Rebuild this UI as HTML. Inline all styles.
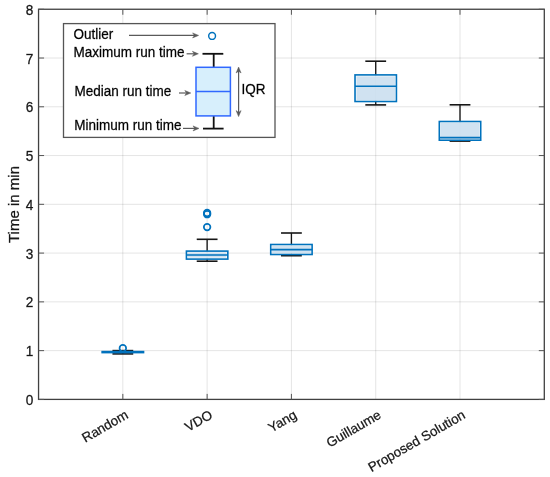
<!DOCTYPE html>
<html><head><meta charset="utf-8"><title>Boxplot</title>
<style>html,body{margin:0;padding:0;background:#fff;overflow:hidden;}svg{display:block;}
text{font-family:'Liberation Sans', Arial, Helvetica, sans-serif;}</style></head>
<body><svg width="550" height="477" viewBox="0 0 550 477">
<rect x="0" y="0" width="550" height="477" fill="#fff"/>
<line x1="38.55" y1="350.63" x2="544.3" y2="350.63" stroke="#000" stroke-opacity="0.105" stroke-width="1"/>
<line x1="38.55" y1="301.86" x2="544.3" y2="301.86" stroke="#000" stroke-opacity="0.105" stroke-width="1"/>
<line x1="38.55" y1="253.09" x2="544.3" y2="253.09" stroke="#000" stroke-opacity="0.105" stroke-width="1"/>
<line x1="38.55" y1="204.32" x2="544.3" y2="204.32" stroke="#000" stroke-opacity="0.105" stroke-width="1"/>
<line x1="38.55" y1="155.56" x2="544.3" y2="155.56" stroke="#000" stroke-opacity="0.105" stroke-width="1"/>
<line x1="38.55" y1="106.79" x2="544.3" y2="106.79" stroke="#000" stroke-opacity="0.105" stroke-width="1"/>
<line x1="38.55" y1="58.02" x2="544.3" y2="58.02" stroke="#000" stroke-opacity="0.105" stroke-width="1"/>
<line x1="122.84" y1="9.25" x2="122.84" y2="399.4" stroke="#000" stroke-opacity="0.105" stroke-width="1"/>
<line x1="207.13" y1="9.25" x2="207.13" y2="399.4" stroke="#000" stroke-opacity="0.105" stroke-width="1"/>
<line x1="291.42" y1="9.25" x2="291.42" y2="399.4" stroke="#000" stroke-opacity="0.105" stroke-width="1"/>
<line x1="375.72" y1="9.25" x2="375.72" y2="399.4" stroke="#000" stroke-opacity="0.105" stroke-width="1"/>
<line x1="460.01" y1="9.25" x2="460.01" y2="399.4" stroke="#000" stroke-opacity="0.105" stroke-width="1"/>
<line x1="122.84" y1="350.6" x2="122.84" y2="351.6" stroke="#161616" stroke-width="1.35"/>
<line x1="122.84" y1="352.6" x2="122.84" y2="353.9" stroke="#161616" stroke-width="1.35"/>
<line x1="112.44" y1="350.6" x2="133.24" y2="350.6" stroke="#161616" stroke-width="1.6"/>
<line x1="112.44" y1="353.9" x2="133.24" y2="353.9" stroke="#161616" stroke-width="1.6"/>
<rect x="102.14" y="351.60" width="41.40" height="1.00" fill="none" stroke="#0072bd" stroke-width="1.6"/>
<line x1="102.14" y1="352.1" x2="143.54" y2="352.1" stroke="#0072bd" stroke-width="1.6"/>
<circle cx="122.84" cy="348.2" r="3.3" fill="none" stroke="#0072bd" stroke-width="1.7"/>
<rect x="187.83" y="252.50" width="38.60" height="5.20" fill="#cbdff0" fill-opacity="0.9"/>
<line x1="207.13" y1="239.3" x2="207.13" y2="251.1" stroke="#161616" stroke-width="1.35"/>
<line x1="207.13" y1="259.1" x2="207.13" y2="261.2" stroke="#161616" stroke-width="1.35"/>
<line x1="196.73" y1="239.3" x2="217.53" y2="239.3" stroke="#161616" stroke-width="1.6"/>
<line x1="196.73" y1="261.2" x2="217.53" y2="261.2" stroke="#161616" stroke-width="1.6"/>
<rect x="186.43" y="251.10" width="41.40" height="8.00" fill="none" stroke="#0072bd" stroke-width="1.6"/>
<line x1="186.43" y1="255.0" x2="227.83" y2="255.0" stroke="#0072bd" stroke-width="1.6"/>
<circle cx="207.13" cy="213.0" r="3.3" fill="none" stroke="#0072bd" stroke-width="1.7"/>
<circle cx="207.13" cy="214.2" r="3.3" fill="none" stroke="#0072bd" stroke-width="1.7"/>
<circle cx="207.13" cy="227.1" r="3.3" fill="none" stroke="#0072bd" stroke-width="1.7"/>
<rect x="272.12" y="245.90" width="38.60" height="7.20" fill="#cbdff0" fill-opacity="0.9"/>
<line x1="291.42" y1="233.0" x2="291.42" y2="244.5" stroke="#161616" stroke-width="1.35"/>
<line x1="291.42" y1="254.5" x2="291.42" y2="255.7" stroke="#161616" stroke-width="1.35"/>
<line x1="281.02" y1="233.0" x2="301.82" y2="233.0" stroke="#161616" stroke-width="1.6"/>
<line x1="281.02" y1="255.7" x2="301.82" y2="255.7" stroke="#161616" stroke-width="1.6"/>
<rect x="270.72" y="244.50" width="41.40" height="10.00" fill="none" stroke="#0072bd" stroke-width="1.6"/>
<line x1="270.72" y1="249.6" x2="312.12" y2="249.6" stroke="#0072bd" stroke-width="1.6"/>
<rect x="356.42" y="76.30" width="38.60" height="23.80" fill="#cbdff0" fill-opacity="0.9"/>
<line x1="375.72" y1="61.2" x2="375.72" y2="74.9" stroke="#161616" stroke-width="1.35"/>
<line x1="375.72" y1="101.5" x2="375.72" y2="104.9" stroke="#161616" stroke-width="1.35"/>
<line x1="365.32" y1="61.2" x2="386.12" y2="61.2" stroke="#161616" stroke-width="1.6"/>
<line x1="365.32" y1="104.9" x2="386.12" y2="104.9" stroke="#161616" stroke-width="1.6"/>
<rect x="355.02" y="74.90" width="41.40" height="26.60" fill="none" stroke="#0072bd" stroke-width="1.6"/>
<line x1="355.02" y1="86.2" x2="396.42" y2="86.2" stroke="#0072bd" stroke-width="1.6"/>
<rect x="440.71" y="122.90" width="38.60" height="15.90" fill="#cbdff0" fill-opacity="0.9"/>
<line x1="460.01" y1="104.8" x2="460.01" y2="121.5" stroke="#161616" stroke-width="1.35"/>
<line x1="460.01" y1="140.2" x2="460.01" y2="141.1" stroke="#161616" stroke-width="1.35"/>
<line x1="449.61" y1="104.8" x2="470.41" y2="104.8" stroke="#161616" stroke-width="1.6"/>
<line x1="449.61" y1="141.1" x2="470.41" y2="141.1" stroke="#161616" stroke-width="1.6"/>
<rect x="439.31" y="121.50" width="41.40" height="18.70" fill="none" stroke="#0072bd" stroke-width="1.6"/>
<line x1="439.31" y1="137.6" x2="480.71" y2="137.6" stroke="#0072bd" stroke-width="1.6"/>
<rect x="38.55" y="9.25" width="505.75" height="390.15" fill="none" stroke="#404040" stroke-width="1.3"/>
<line x1="38.55" y1="399.40" x2="44.05" y2="399.40" stroke="#555" stroke-width="1"/>
<line x1="538.8" y1="399.40" x2="544.3" y2="399.40" stroke="#555" stroke-width="1"/>
<text x="0" y="0" text-anchor="end" font-size="13.6" fill="#1a1a1a" transform="translate(33.35,405.00) scale(1,1.06)" stroke="#000" stroke-width="0.35" stroke-opacity="0.65">0</text>
<line x1="38.55" y1="350.63" x2="44.05" y2="350.63" stroke="#555" stroke-width="1"/>
<line x1="538.8" y1="350.63" x2="544.3" y2="350.63" stroke="#555" stroke-width="1"/>
<text x="0" y="0" text-anchor="end" font-size="13.6" fill="#1a1a1a" transform="translate(33.35,356.23) scale(1,1.06)" stroke="#000" stroke-width="0.35" stroke-opacity="0.65">1</text>
<line x1="38.55" y1="301.86" x2="44.05" y2="301.86" stroke="#555" stroke-width="1"/>
<line x1="538.8" y1="301.86" x2="544.3" y2="301.86" stroke="#555" stroke-width="1"/>
<text x="0" y="0" text-anchor="end" font-size="13.6" fill="#1a1a1a" transform="translate(33.35,307.46) scale(1,1.06)" stroke="#000" stroke-width="0.35" stroke-opacity="0.65">2</text>
<line x1="38.55" y1="253.09" x2="44.05" y2="253.09" stroke="#555" stroke-width="1"/>
<line x1="538.8" y1="253.09" x2="544.3" y2="253.09" stroke="#555" stroke-width="1"/>
<text x="0" y="0" text-anchor="end" font-size="13.6" fill="#1a1a1a" transform="translate(33.35,258.69) scale(1,1.06)" stroke="#000" stroke-width="0.35" stroke-opacity="0.65">3</text>
<line x1="38.55" y1="204.32" x2="44.05" y2="204.32" stroke="#555" stroke-width="1"/>
<line x1="538.8" y1="204.32" x2="544.3" y2="204.32" stroke="#555" stroke-width="1"/>
<text x="0" y="0" text-anchor="end" font-size="13.6" fill="#1a1a1a" transform="translate(33.35,209.92) scale(1,1.06)" stroke="#000" stroke-width="0.35" stroke-opacity="0.65">4</text>
<line x1="38.55" y1="155.56" x2="44.05" y2="155.56" stroke="#555" stroke-width="1"/>
<line x1="538.8" y1="155.56" x2="544.3" y2="155.56" stroke="#555" stroke-width="1"/>
<text x="0" y="0" text-anchor="end" font-size="13.6" fill="#1a1a1a" transform="translate(33.35,161.16) scale(1,1.06)" stroke="#000" stroke-width="0.35" stroke-opacity="0.65">5</text>
<line x1="38.55" y1="106.79" x2="44.05" y2="106.79" stroke="#555" stroke-width="1"/>
<line x1="538.8" y1="106.79" x2="544.3" y2="106.79" stroke="#555" stroke-width="1"/>
<text x="0" y="0" text-anchor="end" font-size="13.6" fill="#1a1a1a" transform="translate(33.35,112.39) scale(1,1.06)" stroke="#000" stroke-width="0.35" stroke-opacity="0.65">6</text>
<line x1="38.55" y1="58.02" x2="44.05" y2="58.02" stroke="#555" stroke-width="1"/>
<line x1="538.8" y1="58.02" x2="544.3" y2="58.02" stroke="#555" stroke-width="1"/>
<text x="0" y="0" text-anchor="end" font-size="13.6" fill="#1a1a1a" transform="translate(33.35,63.62) scale(1,1.06)" stroke="#000" stroke-width="0.35" stroke-opacity="0.65">7</text>
<line x1="38.55" y1="9.25" x2="44.05" y2="9.25" stroke="#555" stroke-width="1"/>
<line x1="538.8" y1="9.25" x2="544.3" y2="9.25" stroke="#555" stroke-width="1"/>
<text x="0" y="0" text-anchor="end" font-size="13.6" fill="#1a1a1a" transform="translate(33.35,14.85) scale(1,1.06)" stroke="#000" stroke-width="0.35" stroke-opacity="0.65">8</text>
<line x1="122.84" y1="399.4" x2="122.84" y2="393.9" stroke="#555" stroke-width="1"/>
<line x1="122.84" y1="9.25" x2="122.84" y2="14.75" stroke="#555" stroke-width="1"/>
<line x1="207.13" y1="399.4" x2="207.13" y2="393.9" stroke="#555" stroke-width="1"/>
<line x1="207.13" y1="9.25" x2="207.13" y2="14.75" stroke="#555" stroke-width="1"/>
<line x1="291.42" y1="399.4" x2="291.42" y2="393.9" stroke="#555" stroke-width="1"/>
<line x1="291.42" y1="9.25" x2="291.42" y2="14.75" stroke="#555" stroke-width="1"/>
<line x1="375.72" y1="9.25" x2="375.72" y2="14.75" stroke="#555" stroke-width="1"/>
<line x1="460.01" y1="9.25" x2="460.01" y2="14.75" stroke="#555" stroke-width="1"/>
<text x="0" y="0" text-anchor="end" font-size="13.4" fill="#1a1a1a" transform="translate(129.14,417.50) rotate(-30)" stroke="#000" stroke-width="0.35" stroke-opacity="0.65">Random</text>
<text x="0" y="0" text-anchor="end" font-size="13.4" fill="#1a1a1a" transform="translate(213.43,417.50) rotate(-30)" stroke="#000" stroke-width="0.35" stroke-opacity="0.65">VDO</text>
<text x="0" y="0" text-anchor="end" font-size="13.4" fill="#1a1a1a" transform="translate(297.72,417.50) rotate(-30)" stroke="#000" stroke-width="0.35" stroke-opacity="0.65">Yang</text>
<text x="0" y="0" text-anchor="end" font-size="13.4" fill="#1a1a1a" transform="translate(382.02,417.50) rotate(-30)" stroke="#000" stroke-width="0.35" stroke-opacity="0.65">Guillaume</text>
<text x="0" y="0" text-anchor="end" font-size="13.4" fill="#1a1a1a" transform="translate(466.31,417.50) rotate(-30)" stroke="#000" stroke-width="0.35" stroke-opacity="0.65">Proposed Solution</text>
<text x="0" y="0" text-anchor="middle" font-size="15" fill="#1a1a1a" transform="translate(19,204.5) rotate(-90)" stroke="#000" stroke-width="0.35" stroke-opacity="0.65">Time in min</text>
<rect x="63.5" y="23.6" width="211.5" height="113.8" fill="#fff" stroke="#555" stroke-width="1.3"/>
<text x="0" y="0" font-size="13.5" fill="#000" transform="translate(73.6,39.1) scale(1,1.08)" stroke="#000" stroke-width="0.35" stroke-opacity="0.65">Outlier</text>
<text x="0" y="0" font-size="13.5" fill="#000" transform="translate(73.6,57.3) scale(1,1.08)" stroke="#000" stroke-width="0.35" stroke-opacity="0.65">Maximum run time</text>
<text x="0" y="0" font-size="13.5" fill="#000" transform="translate(74.5,95.9) scale(1,1.08)" stroke="#000" stroke-width="0.35" stroke-opacity="0.65">Median run time</text>
<text x="0" y="0" font-size="13.5" fill="#000" transform="translate(74.2,130.4) scale(1,1.08)" stroke="#000" stroke-width="0.35" stroke-opacity="0.65">Minimum run time</text>
<text x="0" y="0" font-size="13.5" fill="#000" transform="translate(241.6,94.2) scale(1,1.08)" stroke="#000" stroke-width="0.35" stroke-opacity="0.65">IQR</text>
<line x1="129" y1="35.4" x2="195.6" y2="35.4" stroke="#5a5a5a" stroke-width="1.2"/>
<path d="M198.6,35.4 L192.6,32.9 L194.4,35.4 L192.6,37.9 Z" fill="#5a5a5a" stroke="#5a5a5a" stroke-width="0.5" stroke-linejoin="miter"/>
<line x1="186.6" y1="53.8" x2="195.4" y2="53.8" stroke="#5a5a5a" stroke-width="1.2"/>
<path d="M198.4,53.8 L192.4,51.3 L194.20000000000002,53.8 L192.4,56.3 Z" fill="#5a5a5a" stroke="#5a5a5a" stroke-width="0.5" stroke-linejoin="miter"/>
<line x1="179" y1="93" x2="187.8" y2="93" stroke="#5a5a5a" stroke-width="1.2"/>
<path d="M190.8,93 L184.8,90.5 L186.60000000000002,93 L184.8,95.5 Z" fill="#5a5a5a" stroke="#5a5a5a" stroke-width="0.5" stroke-linejoin="miter"/>
<line x1="183" y1="128.4" x2="196" y2="128.4" stroke="#5a5a5a" stroke-width="1.2"/>
<path d="M199,128.4 L193,125.9 L194.8,128.4 L193,130.9 Z" fill="#5a5a5a" stroke="#5a5a5a" stroke-width="0.5" stroke-linejoin="miter"/>
<line x1="238.6" y1="70" x2="238.6" y2="113.6" stroke="#5a5a5a" stroke-width="1.2"/>
<path d="M238.6,67 L236.1,73 L238.6,71.2 L241.1,73 Z" fill="#5a5a5a" stroke="#5a5a5a" stroke-width="0.5"/>
<path d="M238.6,116.6 L236.1,110.6 L238.6,112.4 L241.1,110.6 Z" fill="#5a5a5a" stroke="#5a5a5a" stroke-width="0.5"/>
<circle cx="212.1" cy="36.0" r="3.4" fill="none" stroke="#0072bd" stroke-width="1.45"/>
<line x1="202.5" y1="53.8" x2="223.3" y2="53.8" stroke="#111" stroke-width="1.8"/>
<line x1="213.7" y1="53.8" x2="213.7" y2="67" stroke="#111" stroke-width="1.8"/>
<line x1="213.7" y1="116" x2="213.7" y2="128.6" stroke="#111" stroke-width="1.8"/>
<line x1="203" y1="128.6" x2="223.6" y2="128.6" stroke="#111" stroke-width="1.8"/>
<rect x="196" y="67.3" width="34.4" height="48.6" fill="#d7effc" stroke="#3068ff" stroke-width="1.5"/>
<line x1="196" y1="91.6" x2="230.4" y2="91.6" stroke="#3068ff" stroke-width="1.5"/>
</svg></body></html>
